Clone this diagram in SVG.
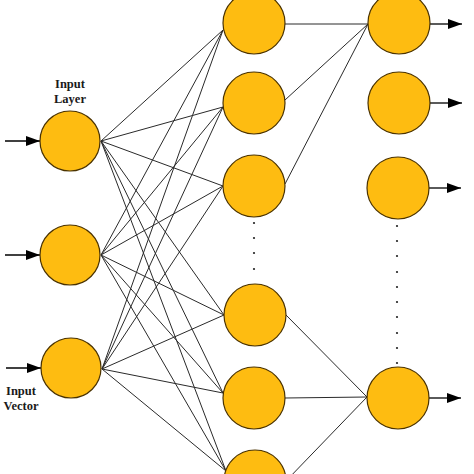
<svg xmlns="http://www.w3.org/2000/svg" width="474" height="474" viewBox="0 0 474 474">
<defs>
<style>
.node{fill:#FEBC11;stroke:#4a3200;stroke-width:1.2}
.conn{stroke:#2a2a2a;stroke-width:1;fill:none}
.arr{stroke:#000;stroke-width:1.3;fill:none;marker-end:url(#ah)}
.dot{fill:#222}
.lbl{font-family:"Liberation Serif",serif;font-weight:bold;font-size:12.5px;fill:#1a1a1a;text-anchor:middle}
</style>
<marker id="ah" viewBox="0 0 14 10" refX="14" refY="5" markerWidth="14" markerHeight="10" markerUnits="userSpaceOnUse" orient="auto">
<path d="M0,0 L14,5 L0,10 Z" fill="#000"/>
</marker>
</defs>
<rect width="474" height="474" fill="#fff"/>
<g id="connectors">
<line class="conn" x1="101" y1="141" x2="223" y2="30"/>
<line class="conn" x1="101" y1="141" x2="223" y2="107"/>
<line class="conn" x1="101" y1="141" x2="223" y2="186"/>
<line class="conn" x1="101" y1="141" x2="224" y2="315"/>
<line class="conn" x1="101" y1="141" x2="223" y2="393"/>
<line class="conn" x1="101" y1="141" x2="226" y2="471"/>
<line class="conn" x1="101" y1="255" x2="223" y2="30"/>
<line class="conn" x1="101" y1="255" x2="223" y2="107"/>
<line class="conn" x1="101" y1="255" x2="223" y2="186"/>
<line class="conn" x1="101" y1="255" x2="224" y2="315"/>
<line class="conn" x1="101" y1="255" x2="223" y2="393"/>
<line class="conn" x1="101" y1="255" x2="226" y2="471"/>
<line class="conn" x1="102" y1="369" x2="223" y2="30"/>
<line class="conn" x1="102" y1="369" x2="223" y2="107"/>
<line class="conn" x1="102" y1="369" x2="223" y2="186"/>
<line class="conn" x1="102" y1="369" x2="224" y2="315"/>
<line class="conn" x1="102" y1="369" x2="223" y2="393"/>
<line class="conn" x1="102" y1="369" x2="226" y2="471"/>
<line class="conn" x1="285" y1="24" x2="368" y2="24"/>
<line class="conn" x1="285" y1="100" x2="368" y2="24"/>
<line class="conn" x1="285" y1="184" x2="368" y2="24"/>
<line class="conn" x1="286" y1="315" x2="367" y2="397"/>
<line class="conn" x1="285" y1="398" x2="367" y2="397"/>
<line class="conn" x1="286" y1="481" x2="367" y2="397"/>
<line class="arr" x1="5" y1="141" x2="40" y2="141"/>
<line class="arr" x1="5" y1="255" x2="40" y2="255"/>
<line class="arr" x1="6" y1="368" x2="41" y2="368"/>
<line class="arr" x1="430" y1="24" x2="462" y2="24"/>
<line class="arr" x1="430" y1="103" x2="462" y2="103"/>
<line class="arr" x1="429" y1="188" x2="461" y2="188"/>
<line class="arr" x1="429" y1="398" x2="461" y2="398"/>
</g>
<g id="input1"><circle class="node" cx="70" cy="141" r="30"/></g>
<g id="input2"><circle class="node" cx="70" cy="255" r="30"/></g>
<g id="input3"><circle class="node" cx="71" cy="368" r="30"/></g>
<g id="hidden1"><circle class="node" cx="254" cy="23" r="31"/></g>
<g id="hidden2"><circle class="node" cx="254" cy="103" r="31"/></g>
<g id="hidden3"><circle class="node" cx="254" cy="186" r="31"/></g>
<g id="hidden4"><circle class="node" cx="255" cy="315" r="31"/></g>
<g id="hidden5"><circle class="node" cx="254" cy="398" r="31"/></g>
<g id="hidden6"><circle class="node" cx="255" cy="481" r="31"/></g>
<g id="output1"><circle class="node" cx="399" cy="23" r="31"/></g>
<g id="output2"><circle class="node" cx="399" cy="103" r="31"/></g>
<g id="output3"><circle class="node" cx="398" cy="188" r="31"/></g>
<g id="output4"><circle class="node" cx="398" cy="398" r="31"/></g>
<g id="dots-hidden">
<circle class="dot" cx="254" cy="223" r="1.1"/>
<circle class="dot" cx="254" cy="238" r="1.1"/>
<circle class="dot" cx="254" cy="253" r="1.1"/>
<circle class="dot" cx="254" cy="269" r="1.1"/>
</g>
<g id="dots-output">
<circle class="dot" cx="397" cy="226" r="1.1"/>
<circle class="dot" cx="397" cy="241" r="1.1"/>
<circle class="dot" cx="397" cy="256" r="1.1"/>
<circle class="dot" cx="397" cy="272" r="1.1"/>
<circle class="dot" cx="397" cy="287" r="1.1"/>
<circle class="dot" cx="397" cy="302" r="1.1"/>
<circle class="dot" cx="397" cy="317" r="1.1"/>
<circle class="dot" cx="397" cy="333" r="1.1"/>
<circle class="dot" cx="397" cy="348" r="1.1"/>
<circle class="dot" cx="397" cy="363" r="1.1"/>
</g>
<g id="labels">
<text class="lbl" x="70" y="88">Input</text>
<text class="lbl" x="70" y="103">Layer</text>
<text class="lbl" x="21" y="395">Input</text>
<text class="lbl" x="21" y="410">Vector</text>
</g>
</svg>
